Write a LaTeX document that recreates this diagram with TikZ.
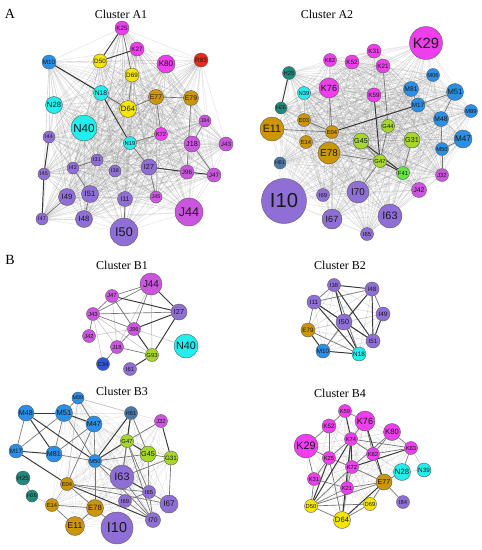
\documentclass[tikz,border=0pt]{standalone}
\usepackage{fontspec}
\setmainfont{Liberation Sans}
\newfontfamily\serifnm{Liberation Serif}
\usetikzlibrary{backgrounds}
\definecolor{cI}{HTML}{8F6FD6}
\definecolor{cK}{HTML}{EE3EEE}
\definecolor{cJ}{HTML}{CC55E0}
\definecolor{cN}{HTML}{22EEEE}
\definecolor{cM}{HTML}{2A8FE8}
\definecolor{cD}{HTML}{F5E500}
\definecolor{cE}{HTML}{CC9608}
\definecolor{cR}{HTML}{E62A1E}
\definecolor{cH}{HTML}{1F8A7C}
\definecolor{cHb}{HTML}{4A78A8}
\definecolor{cG}{HTML}{A6D82A}
\definecolor{cF}{HTML}{5BEA3A}
\definecolor{cC}{HTML}{3056E0}
\tikzset{
 nd/.style={circle,draw=black!65,line width=0.4pt,inner sep=0pt,text=black!90},
 mesh/.style={draw=gray!90,line width=0.35pt},
 el/.style={draw=gray!55,line width=0.45pt},
 em/.style={draw=black!55,line width=0.65pt},
 ed/.style={draw=black!78,line width=0.95pt},
 ttl/.style={font={\serifnm\fontsize{12}{12}\selectfont}},
 pan/.style={font={\serifnm\fontsize{14}{14}\selectfont}}
}
\newcommand\nd[6]{\node[nd,fill=#6,minimum size=#5*2pt,font={\fontsize{\fpeval{0.9*#5}}{#5}\selectfont}] (#1#2) at (#3,#4) {#2};}
\newcommand\meshall[3]{\foreach \a [count=\i] in {#2} {\foreach \b [count=\j] in {#2} {\ifnum\j>\i \draw[mesh,opacity=#3] (#1\a) -- (#1\b);\fi}}}
\newcommand\edges[3]{\foreach \a/\b in {#3} {\draw[#2] (#1\a) -- (#1\b);}}
\begin{document}
\begin{tikzpicture}[x=1pt,y=-1pt]
\useasboundingbox (0,0) rectangle (482,550);
% titles
\node[pan] (pA) at (10,14) {A};
\node[pan] (pB) at (10,260) {B};
\node[ttl] (tA1) at (121,14) {Cluster A1};
\node[ttl] (tA2) at (327,14) {Cluster A2};
\node[ttl] (tB1) at (122,265) {Cluster B1};
\node[ttl] (tB2) at (340,265) {Cluster B2};
\node[ttl] (tB3) at (122,391) {Cluster B3};
\node[ttl] (tB4) at (340,393) {Cluster B4};
% ---------- A1
\nd{a}{K25}{122}{28}{7}{cK}
\nd{a}{K27}{137}{49}{7}{cK}
\nd{a}{M10}{49}{62}{7}{cM}
\nd{a}{D50}{100}{61}{7}{cD}
\nd{a}{K80}{166}{64}{9}{cK}
\nd{a}{R83}{201}{60}{7}{cR}
\nd{a}{D69}{132}{75}{7}{cD}
\nd{a}{N18}{101}{93}{7.5}{cN}
\nd{a}{E77}{156}{97}{7.5}{cE}
\nd{a}{E79}{191}{98}{7.5}{cE}
\nd{a}{N28}{54}{105}{8.5}{cN}
\nd{a}{D64}{128}{109}{8.5}{cD}
\nd{a}{N40}{84}{128}{13}{cN}
\nd{a}{J84}{205}{121}{6}{cJ}
\nd{a}{K72}{161}{134}{6.5}{cK}
\nd{a}{N19}{130}{143}{6.5}{cN}
\nd{a}{I44}{49}{137}{6}{cI}
\nd{a}{J18}{192}{144}{8}{cJ}
\nd{a}{J43}{226}{144}{7}{cJ}
\nd{a}{I31}{97}{160}{6}{cI}
\nd{a}{I42}{73}{168}{6}{cI}
\nd{a}{I38}{115}{171}{6}{cI}
\nd{a}{I27}{149}{167}{8}{cI}
\nd{a}{I45}{44}{174}{6}{cI}
\nd{a}{J96}{187}{172}{7}{cJ}
\nd{a}{J47}{214}{175}{7}{cJ}
\nd{a}{I49}{67}{197}{8.5}{cI}
\nd{a}{I51}{90}{194}{8.5}{cI}
\nd{a}{I11}{125}{199}{7.5}{cI}
\nd{a}{J45}{156}{197}{6}{cJ}
\nd{a}{J44}{189}{212}{14}{cJ}
\nd{a}{I47}{42}{219}{6}{cI}
\nd{a}{I48}{84}{219}{8.5}{cI}
\nd{a}{I50}{124}{232}{14}{cI}
% ---------- A2
\nd{b}{K29}{426}{43}{16.5}{cK}
\nd{b}{K31}{374}{51}{7}{cK}
\nd{b}{K82}{330}{60}{6.5}{cK}
\nd{b}{K52}{352}{62}{7}{cK}
\nd{b}{K21}{383}{66}{7}{cK}
\nd{b}{H25}{289}{73}{6.5}{cH}
\nd{b}{M06}{433}{75}{6.5}{cM}
\nd{b}{N39}{304}{93}{6.5}{cN}
\nd{b}{K76}{329}{88}{10}{cK}
\nd{b}{K59}{374}{95}{7}{cK}
\nd{b}{M81}{411}{89}{7.5}{cM}
\nd{b}{M51}{455}{92}{8.5}{cM}
\nd{b}{H26}{281}{108}{6}{cH}
\nd{b}{M17}{418}{105}{7}{cM}
\nd{b}{M89}{471}{111}{6.5}{cM}
\nd{b}{E03}{304}{120}{6.5}{cE}
\nd{b}{M48}{441}{119}{7.5}{cM}
\nd{b}{E11}{272}{129}{12}{cE}
\nd{b}{E04}{332}{132}{6.5}{cE}
\nd{b}{G44}{388}{126}{6.5}{cG}
\nd{b}{G45}{361}{141}{8}{cG}
\nd{b}{G31}{412}{140}{8}{cG}
\nd{b}{M47}{463}{139}{9}{cM}
\nd{b}{E14}{306}{142}{6.5}{cE}
\nd{b}{M50}{442}{149}{6.5}{cM}
\nd{b}{E78}{329}{153}{11}{cE}
\nd{b}{H81}{280}{163}{6}{cHb}
\nd{b}{G47}{380}{161}{6.5}{cG}
\nd{b}{F41}{403}{173}{6.5}{cF}
\nd{b}{J32}{442}{175}{6.5}{cJ}
\nd{b}{J42}{419}{190}{7.5}{cJ}
\nd{b}{I10}{284}{201}{22.5}{cI}
\nd{b}{I69}{323}{195}{6.5}{cI}
\nd{b}{I70}{358}{192}{11}{cI}
\nd{b}{I67}{332}{219}{10}{cI}
\nd{b}{I63}{390}{216}{12}{cI}
\nd{b}{I65}{367}{234}{6.5}{cI}
% ---------- B1
\nd{c}{J44}{151}{284}{11}{cJ}
\nd{c}{J47}{112}{296}{6.5}{cJ}
\nd{c}{J43}{93}{314}{6.5}{cJ}
\nd{c}{I27}{179}{312}{8}{cI}
\nd{c}{J96}{134}{329}{6.5}{cJ}
\nd{c}{J42}{89}{336}{6.5}{cJ}
\nd{c}{J18}{117}{347}{6.5}{cJ}
\nd{c}{N40}{186}{346}{12}{cN}
\nd{c}{G93}{152}{355}{6.5}{cG}
\nd{c}{C34}{103}{364}{6.5}{cC}
\nd{c}{I61}{130}{369}{6.5}{cI}
% ---------- B2
\nd{d}{I38}{334}{285}{6.5}{cI}
\nd{d}{I48}{372}{289}{7}{cI}
\nd{d}{I11}{314}{302}{7}{cI}
\nd{d}{I49}{383}{314}{7}{cI}
\nd{d}{I50}{344}{322}{8}{cI}
\nd{d}{E79}{308}{330}{7}{cE}
\nd{d}{I51}{373}{341}{7}{cI}
\nd{d}{M10}{323}{351}{7}{cM}
\nd{d}{N18}{359}{354}{7}{cN}
% ---------- B3
\nd{e}{M89}{78}{398}{6}{cM}
\nd{e}{M48}{26}{413}{8}{cM}
\nd{e}{M51}{64}{413}{8.5}{cM}
\nd{e}{H81}{131}{413}{6.5}{cHb}
\nd{e}{J32}{161}{421}{6.5}{cJ}
\nd{e}{M47}{94}{424}{8}{cM}
\nd{e}{G47}{127}{441}{6.5}{cG}
\nd{e}{G45}{148}{454}{8}{cG}
\nd{e}{G31}{171}{458}{7}{cG}
\nd{e}{M17}{16}{451}{7}{cM}
\nd{e}{M81}{54}{454}{8}{cM}
\nd{e}{M50}{95}{461}{6.5}{cM}
\nd{e}{H25}{23}{478}{7}{cH}
\nd{e}{I63}{122}{477}{12}{cI}
\nd{e}{E04}{67}{484}{6.5}{cE}
\nd{e}{I65}{149}{492}{6.5}{cI}
\nd{e}{H26}{32}{496}{6}{cH}
\nd{e}{I69}{125}{501}{6.5}{cI}
\nd{e}{E14}{52}{505}{6.5}{cE}
\nd{e}{E78}{95}{508}{8.5}{cE}
\nd{e}{I67}{169}{504}{9}{cI}
\nd{e}{I70}{153}{520}{7.5}{cI}
\nd{e}{E11}{75}{526}{9.5}{cE}
\nd{e}{I10}{117}{528}{16}{cI}
% ---------- B4
\nd{f}{K59}{345}{411}{6.5}{cK}
\nd{f}{K76}{365}{421}{10}{cK}
\nd{f}{K52}{329}{426}{7}{cK}
\nd{f}{K80}{392}{432}{8.5}{cK}
\nd{f}{K29}{306}{446}{12}{cK}
\nd{f}{K74}{351}{439}{6.5}{cK}
\nd{f}{K83}{411}{448}{6.5}{cK}
\nd{f}{K25}{329}{458}{6.5}{cK}
\nd{f}{K82}{373}{454}{6.5}{cK}
\nd{f}{K72}{352}{467}{6.5}{cK}
\nd{f}{N28}{402}{472}{8.5}{cN}
\nd{f}{N39}{424}{470}{7}{cN}
\nd{f}{K31}{314}{479}{6.5}{cK}
\nd{f}{E77}{384}{482}{8}{cE}
\nd{f}{K21}{347}{488}{6.5}{cK}
\nd{f}{I84}{403}{502}{6.5}{cI}
\nd{f}{D50}{311}{506}{6.5}{cD}
\nd{f}{D69}{370}{504}{6.5}{cD}
\nd{f}{D64}{342}{520}{8.5}{cD}
% ================= edges
\begin{pgfonlayer}{background}
\fill[white] (0,0) rectangle (482,550);
% A1 mesh
\meshall{a}{K25,K27,M10,D50,K80,R83,D69,N18,E77,E79,N28,D64,N40,J84,K72,N19,I44,J18,J43,I31,I42,I38,I27,I45,J96,J47,I49,I51,I11,J45,J44,I47,I48,I50}{0.3}
\edges{a}{em}{M10/D64,K25/D69,D69/D64,D64/E77,E77/E79,E77/K72,K72/N19,I42/I51,I49/I47,I51/I48,N19/I27,N18/D64,E79/J96,J84/J18,I27/J45,I11/I50,I31/I42,J18/J47}
\edges{a}{ed}{K25/D50,D50/K27,M10/N18,N18/N19,I44/I45,I45/I47,I27/J96,J96/J47}
% A2 mesh
\meshall{b}{K29,K31,K82,K52,K21,H25,M06,N39,K76,K59,M81,M51,H26,M17,M89,E03,M48,E11,E04,G44,G45,G31,M47,E14,M50,E78,H81,G47,F41,J32,J42,I10,I69,I70,I67,I63,I65}{0.27}
\edges{b}{em}{E03/E04,E11/E04,M81/M17,M51/M17,M47/M50,M50/J32,G31/F41,K76/E04,G45/G47,G44/G47,K21/G44,M51/M48,M48/M50,E78/G47,I70/G47}
\edges{b}{ed}{H25/H26,E04/M17,K59/G47,G47/F41,G45/F41}
% B1
\edges{c}{el}{J43/J18,J43/C34,J43/G93,J47/J18,J42/J96,J96/N40,J47/G93,J44/G93,J44/J18}
\edges{c}{em}{J44/J47,J44/J96,J43/J44,J47/J43,J47/J96,J43/I27,J43/J96,J43/J42,J96/J18,J18/C34,J18/G93}
\edges{c}{ed}{J44/I27,J47/I27,J96/I27,J96/G93,G93/I61,I27/G93}
% B2
\meshall{d}{I38,I48,I11,I49,I50,E79,I51,M10,N18}{0.45}
\edges{d}{em}{E79/N18,M10/I50,I48/I49,I11/I38,I38/N18,E79/I11,I11/I51,I48/I11}
\edges{d}{ed}{I38/I48,I38/I50,I38/I51,I48/I50,I48/I51,I11/N18,I49/I51,E79/M10,M10/N18,N18/I50,I11/I50,I50/I51}
% B3
\meshall{e}{M89,M51,H81,J32,M47,G47,G45,G31,M50,I63,E04,I65,I69,E78,I67,I70,I10,E11,E14}{0.2}
\edges{e}{el}{H25/H26,H26/E14,M89/H81,M89/E04,E14/E04}
\edges{e}{em}{M89/M51,M89/M47,M48/M17,M51/M81,M51/M17,M47/M50,M47/M81,M47/E04,M50/G45,M50/I63,M50/E78,H81/G45,H81/I63,J32/G47,G47/I63,G47/I65,G45/G31,G45/I65,G31/I67,I63/I70,I65/I69,I65/I67,I65/I70,I69/I70,E04/E78,E04/I65,E14/E11,E14/E78,E78/E11,E78/I10,E04/I67,M50/I70,G47/I70,M81/M50,M51/M50,I63/G31}
\edges{e}{ed}{M48/M51,M48/M81,M48/M50,M51/M47,M17/M81,M17/E04,M50/G47,M50/H81,H81/G47,J32/G31,G47/G45,I63/I65,E04/I70}
% B4
\meshall{f}{K59,K76,K52,K80,K29,K74,K83,K25,K82,K72,N28,K31,E77,K21,D50,D69,D64}{0.2}
\edges{f}{el}{K83/N39,N28/N39}
\edges{f}{em}{K59/K76,K52/K25,K52/K29,K76/K74,K76/K82,K80/K83,K74/K25,K74/K82,K74/K83,K29/K25,K29/K31,K25/K31,K25/K72,K82/K83,K82/E77,K72/E77,K72/K21,K72/D50,K83/N28,N28/E77,E77/I84,E77/D69,E77/D50,K31/K21,K31/D50,K21/D64,K21/D50,D50/D64,D50/D69,D69/D64,K80/K82,K72/K80,K74/K21,K25/D64,E77/K21,K59/K52}
\edges{f}{ed}{K59/K74,K76/E77,K74/K72,K74/D50,K74/D64,K25/D50,K72/K83,E77/D64}
\end{pgfonlayer}
\end{tikzpicture}
\end{document}
